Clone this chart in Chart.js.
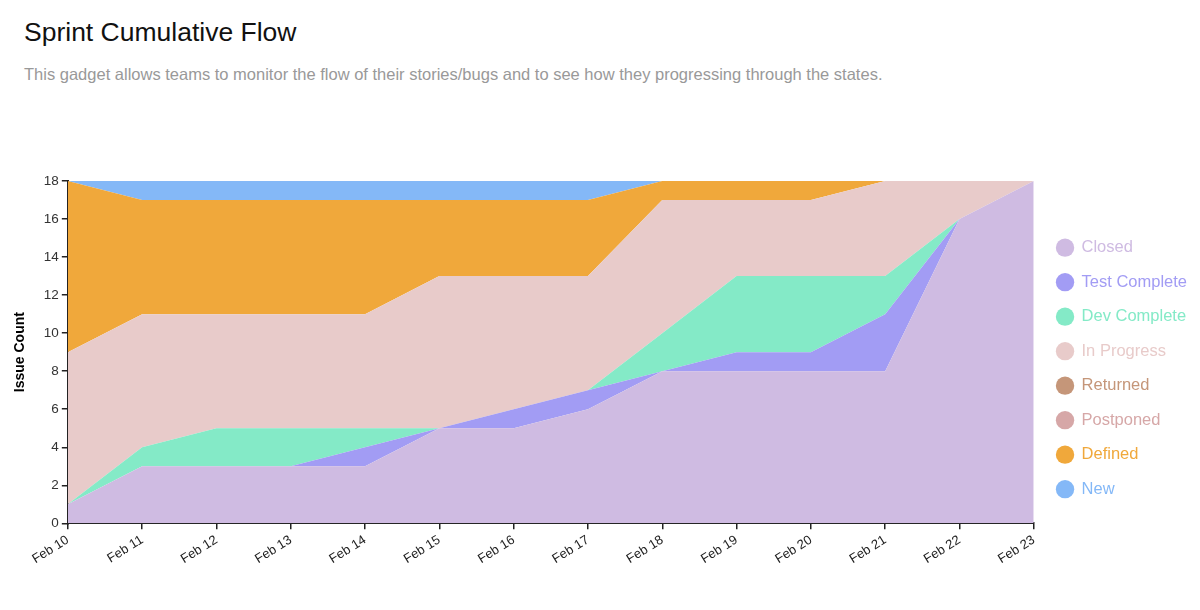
<!DOCTYPE html>
<html>
<head>
<meta charset="utf-8">
<script src="https://cdn.jsdelivr.net/npm/chart.js@4/dist/chart.umd.min.js"></script>
<style>
  body { margin: 0; background: #fff; font-family: "Liberation Sans", Arial, sans-serif; }
  .page { position: relative; width: 1200px; height: 610px; overflow: hidden; }
  .page__title { position: absolute; left: 24px; top: 17px; font-size: 26.5px; color: #111; }
  .page__sub { position: absolute; left: 24px; top: 65px; font-size: 16.5px; color: #999; }
  .page__chart { position: absolute; left: 0; top: 150px; width: 1200px; height: 460px; }
</style>
</head>
<body>
<div class="page">
  <div class="page__title">Sprint Cumulative Flow</div>
  <div class="page__sub">This gadget allows teams to monitor the flow of their stories/bugs and to see how they progressing through the states.</div>
  <div class="page__chart"><canvas id="cht"></canvas></div>
</div>
<script>
const days = ['Feb 10', 'Feb 11', 'Feb 12', 'Feb 13', 'Feb 14', 'Feb 15', 'Feb 16', 'Feb 17', 'Feb 18', 'Feb 19', 'Feb 20', 'Feb 21', 'Feb 22', 'Feb 23'];
const yTicks = [0, 2, 4, 6, 8, 10, 12, 14, 16, 18];

// issues per state per day (stacked from bottom)
const closed       = [1, 3, 3, 3, 3, 5, 5, 6, 8, 8, 8, 8, 16, 18];
const testComplete = [0, 0, 0, 0, 1, 0, 1, 1, 0, 1, 1, 3, 0, 0];
const devComplete  = [0, 1, 2, 2, 1, 0, 0, 0, 2, 4, 4, 2, 0, 0];
const inProgress   = [8, 7, 6, 6, 6, 8, 7, 6, 7, 4, 4, 5, 2, 0];
const returned     = [0, 0, 0, 0, 0, 0, 0, 0, 0, 0, 0, 0, 0, 0];
const postponed    = [0, 0, 0, 0, 0, 0, 0, 0, 0, 0, 0, 0, 0, 0];
const defined      = [9, 6, 6, 6, 6, 4, 4, 4, 1, 1, 1, 0, 0, 0];
const newIssues    = [0, 1, 1, 1, 1, 1, 1, 1, 0, 0, 0, 0, 0, 0];

const states = ['Closed', 'Test Complete', 'Dev Complete', 'In Progress', 'Returned', 'Postponed', 'Defined', 'New'];
const colors = ['#cfbbe2', '#a29cf4', '#84eac7', '#e8cbca', '#c59679', '#d6a7a7', '#f0a83b', '#84b8f7'];
const values = [closed, testComplete, devComplete, inProgress, returned, postponed, defined, newIssues];

const fontFam = '"Liberation Sans", Arial, sans-serif';
const cht = document.getElementById('cht');

const chart = new Chart(cht, {
    type: 'line',
    data: {
        labels: days,
        datasets: states.map((name, i) => ({
            label: name,
            data: values[i],
            backgroundColor: colors[i],
            borderColor: colors[i],
            borderWidth: 0,
            pointRadius: 0,
            tension: 0,
            fill: i == 0 ? 'origin' : '-1'
        }))
    },
    options: {
        responsive: true,
        maintainAspectRatio: false,
        animation: false,
        layout: {
            padding: { left: 8, top: 31, right: 3, bottom: 40 }
        },
        plugins: {
            tooltip: { enabled: false },
            legend: {
                position: 'right',
                align: 'start',
                title: { display: true, text: '', font: { size: 12 }, padding: { top: 26, bottom: 0 } },
                labels: {
                    usePointStyle: true,
                    pointStyle: 'circle',
                    boxHeight: 13,
                    padding: 18,
                    font: { size: 16.5, family: fontFam },
                    generateLabels: (c) => c.data.datasets.map((ds, i) => ({
                        text: ds.label,
                        fillStyle: ds.backgroundColor,
                        strokeStyle: ds.backgroundColor,
                        lineWidth: 0,
                        pointStyle: 'circle',
                        fontColor: ds.backgroundColor,
                        datasetIndex: i
                    }))
                }
            }
        },
        scales: {
            x: {
                offset: false,
                grid: { drawOnChartArea: false, drawTicks: true, tickLength: 6, color: '#222', lineWidth: 1.5 },
                border: { color: '#222', width: 2 },
                ticks: {
                    color: '#222',
                    minRotation: 32,
                    maxRotation: 32,
                    autoSkip: false,
                    font: { size: 13, family: fontFam }
                }
            },
            y: {
                stacked: true,
                min: 0,
                max: 18,
                afterBuildTicks: (axis) => { axis.ticks = yTicks.map(v => ({ value: v })); },
                afterFit: (axis) => { axis.width += 8; },
                grid: { drawOnChartArea: false, drawTicks: true, tickLength: 6, color: '#222', lineWidth: 1.5 },
                border: { color: '#222', width: 2 },
                title: {
                    display: true,
                    text: 'Issue Count',
                    color: '#000',
                    font: { size: 14, weight: 'bold', family: fontFam }
                },
                ticks: {
                    color: '#333',
                    font: { size: 13.5, family: fontFam }
                }
            },
            // empty box that keeps a gap between plot and legend
            gap: {
                type: 'linear',
                position: 'right',
                display: true,
                grid: { display: false },
                border: { display: false },
                ticks: { display: false },
                afterFit: (axis) => { axis.width = 5; }
            }
        }
    }
});
</script>
</body>
</html>
